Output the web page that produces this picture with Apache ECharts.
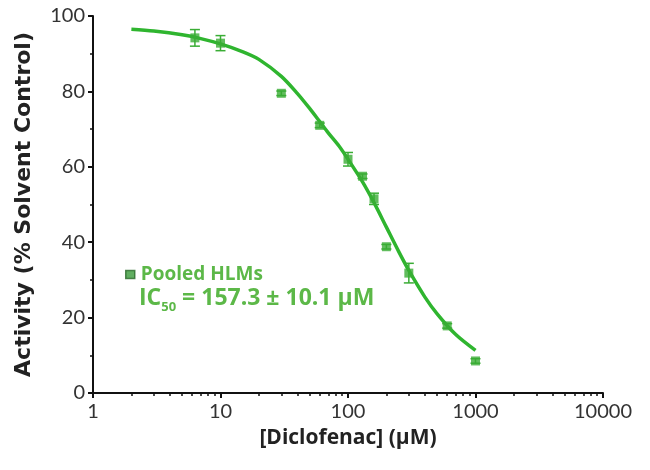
<!DOCTYPE html>
<html>
<head>
<meta charset="utf-8">
<script src="https://cdn.jsdelivr.net/npm/echarts@6/dist/echarts.min.js"></script>
<style>html,body{margin:0;padding:0;background:#fff}#c{width:650px;height:470px}</style>
</head>
<body>
<div id="c"></div>
<script>
const concentrations = [6.3, 10, 30, 60, 100, 130, 160, 200, 300, 600, 1000];
const activity = [94.2, 92.8, 79.5, 71.0, 62.0, 57.5, 51.5, 38.8, 31.8, 17.8, 8.5];
const errors = [2.2, 2.0, 0.6, 0.6, 1.8, 0.6, 1.5, 0.6, 2.6, 0.6, 0.6];
const fitX = [2, 3, 5, 7, 10, 15, 20, 30, 40, 50, 60, 70, 85, 100, 130, 160, 200, 250, 300, 400, 500, 700, 1000];
const fitY = [96.5, 96.0, 95.0, 94.0, 92.6, 90.5, 88.5, 84.0, 79.5, 75.5, 72.0, 69.0, 65.5, 62.0, 56.0, 50.5, 44.0, 37.5, 32.5, 25.5, 21.0, 15.5, 11.3];
const xTicks = [1, 10, 100, 1000, 10000];
const yTicks = [0, 20, 40, 60, 80, 100];

const green = '#2fb52f';
const markerGreen = '#3aad35';
const textGreen = '#5cb848';
const font = 'Lato, "Open Sans", sans-serif';
const boldFont = '"Open Sans", Lato, sans-serif';

const chart = echarts.init(document.getElementById('c'));
const points = concentrations.map((c, i) => [c, activity[i]]);
const errData = concentrations.map((c, i) => [c, activity[i] - errors[i], activity[i] + errors[i]]);
const fit = fitX.map((x, i) => [x, fitY[i]]);

chart.setOption({
  animation: false,
  grid: { left: 93, right: 47, top: 16, bottom: 77 },
  legend: {
    data: [{ name: 'Pooled HLMs', icon: 'rect', itemStyle: { color: '#3a9a3a', borderColor: '#2a6a2a', borderWidth: 1.5 } }],
    left: 120, top: 260, itemWidth: 9, itemHeight: 8, itemGap: 4,
    textStyle: { color: textGreen, fontFamily: boldFont, fontWeight: 'bold', fontSize: 19, padding: [0, 0, 0, 1] }
  },
  xAxis: {
    type: 'log', logBase: 10, min: 1, max: 10000,
    name: '[Diclofenac] (\u03bcM)', nameLocation: 'middle', nameGap: 35,
    nameTextStyle: { fontFamily: boldFont, fontWeight: 'bold', fontSize: 21, color: '#222' },
    axisLine: { lineStyle: { color: '#111', width: 2 } },
    axisTick: { show: true, length: 5, lineStyle: { color: '#111', width: 2 } },
    minorTick: { show: true, splitNumber: 9, length: 3, lineStyle: { color: '#111', width: 1.5 } },
    splitLine: { show: false },
    axisLabel: { fontFamily: font, fontSize: 20, color: '#333', margin: 9,
      formatter: v => xTicks.includes(Math.round(v)) ? String(Math.round(v)) : '' }
  },
  yAxis: {
    type: 'value', min: 0, max: 100, interval: 20,
    name: 'Activity (% Solvent Control)', nameLocation: 'middle', nameGap: 58,
    nameTextStyle: { fontFamily: '"DejaVu Sans", "Open Sans", sans-serif', fontWeight: 'bold', fontSize: 22, color: '#222' },
    axisLine: { show: true, lineStyle: { color: '#111', width: 2 } },
    axisTick: { show: true, length: 5, lineStyle: { color: '#111', width: 2 } },
    minorTick: { show: true, splitNumber: 2, length: 3, lineStyle: { color: '#111', width: 1.5 } },
    splitLine: { show: false },
    axisLabel: { fontFamily: font, fontSize: 20, color: '#333', margin: 8,
      formatter: v => yTicks.includes(v) ? String(v) : '' }
  },
  series: [
    {
      name: 'fit', type: 'line', data: fit, smooth: 0.3, showSymbol: false,
      lineStyle: { color: green, width: 3.5 }, z: 2, silent: true
    },
    {
      name: 'errors', type: 'custom', data: errData, z: 3,
      renderItem: (params, api) => {
        const x = api.value(0);
        const lo = api.coord([x, api.value(1)]);
        const hi = api.coord([x, api.value(2)]);
        const w = 5;
        const style = { stroke: markerGreen, lineWidth: 1.5 };
        return { type: 'group', children: [
          { type: 'line', shape: { x1: lo[0], y1: lo[1], x2: hi[0], y2: hi[1] }, style },
          { type: 'line', shape: { x1: lo[0] - w, y1: lo[1], x2: lo[0] + w, y2: lo[1] }, style },
          { type: 'line', shape: { x1: hi[0] - w, y1: hi[1], x2: hi[0] + w, y2: hi[1] }, style }
        ] };
      }
    },
    {
      name: 'Pooled HLMs', type: 'scatter', data: points, symbol: 'rect', symbolSize: 9,
      itemStyle: { color: markerGreen }, z: 4
    }
  ],
  graphic: [{
    type: 'text', left: 139, top: 287,
    style: {
      text: '{a|IC}{s|50}{a| = 157.3 \u00b1 10.1 \u03bcM}',
      rich: {
        a: { fontFamily: boldFont, fontWeight: 'bold', fontSize: 23, fill: textGreen, verticalAlign: 'bottom' },
        s: { fontFamily: boldFont, fontWeight: 'bold', fontSize: 13, fill: textGreen, verticalAlign: 'bottom', padding: [0, 0, -4, 0] }
      }
    }
  }]
});
</script>
</body>
</html>
